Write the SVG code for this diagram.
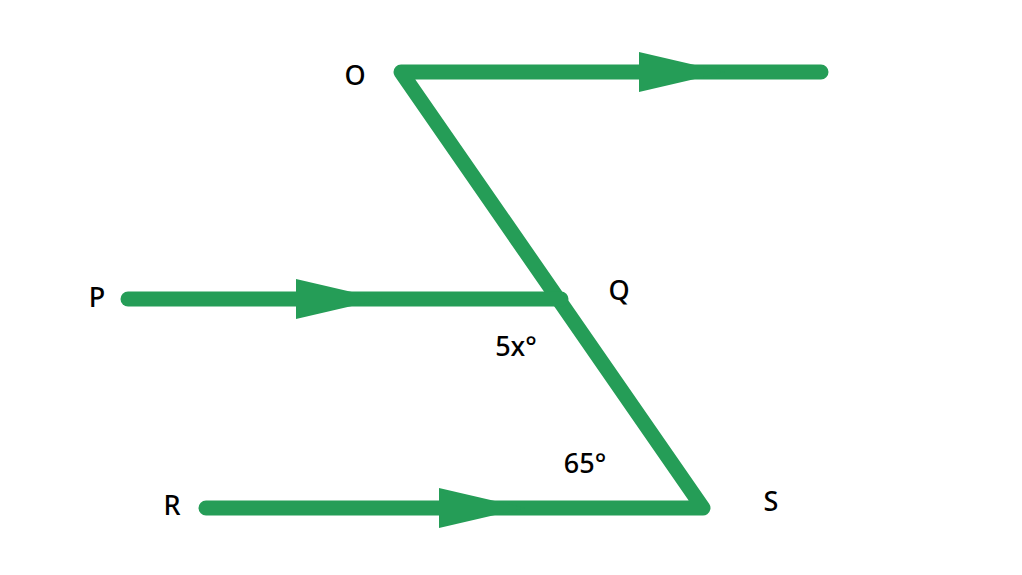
<svg xmlns="http://www.w3.org/2000/svg" width="1022" height="575" viewBox="0 0 1022 575">
<style>
.ln{fill:none;stroke:#259D57;stroke-width:15;stroke-linecap:round;stroke-linejoin:round}
.ah{fill:#259D57}
.lb{font-family:"Noto Sans","Open Sans",sans-serif;font-size:27px;font-weight:500;fill:#000;text-anchor:middle}
</style>
<rect width="1022" height="575" fill="#fff"/>
<g id="connectors">
<polyline class="ln" points="821,72 401,72 703,508 206,508"/>
<line class="ln" x1="128" y1="299" x2="561" y2="299"/>
<polygon class="ah" points="639,52 725,72 639,92"/>
<polygon class="ah" points="296,279 382,299 296,319"/>
<polygon class="ah" points="439,488 525,508 439,528"/>
</g>
<g id="node-O"><text class="lb" x="355" y="85">O</text></g>
<g id="node-P"><text class="lb" x="97" y="307">P</text></g>
<g id="node-Q"><text class="lb" x="619" y="300">Q</text></g>
<g id="node-R"><text class="lb" x="172" y="515">R</text></g>
<g id="node-S"><text class="lb" x="771" y="511">S</text></g>
<g id="label-5x"><text class="lb" x="516" y="356">5x°</text></g>
<g id="label-65"><text class="lb" x="585" y="473">65°</text></g>
</svg>
